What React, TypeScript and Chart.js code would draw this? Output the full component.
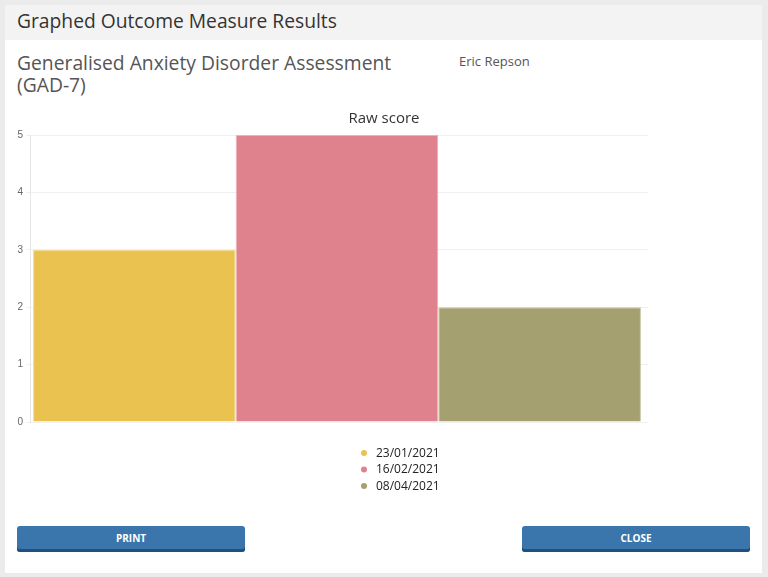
import React, { useEffect, useRef } from "react";
import { Chart, registerables } from "chart.js";

Chart.register(...registerables);

const categories: string[] = [""];
const seriesLabels: string[] = ["23/01/2021", "16/02/2021", "08/04/2021"];
const seriesValues: number[][] = [[3], [5], [2]];
const seriesColors: string[] = ["#EAC250", "#DF828E", "#A4A070"];
const seriesBorders: string[] = ["#F3DA94", "#ECB1B9", "#C8C5A4"];
const yTicks: number[] = [0, 1, 2, 3, 4, 5];

const legendPlugin = {
  id: "stackedLegend",
  afterDraw(chart: any) {
    const { ctx, chartArea } = chart;
    ctx.save();
    ctx.font = '12px "Open Sans"';
    ctx.textBaseline = "middle";
    ctx.textAlign = "left";
    chart.data.datasets.forEach((ds: any, i: number) => {
      const y = chartArea.bottom + 31 + i * 16.5;
      const cx = chart.width / 2 - 20;
      ctx.beginPath();
      ctx.fillStyle = ds.backgroundColor;
      ctx.arc(cx, y, 3, 0, Math.PI * 2);
      ctx.fill();
      ctx.fillStyle = "#222";
      ctx.fillText(ds.label, cx + 12, y + 0.5);
    });
    ctx.restore();
  },
};

function BarChart() {
  const ref = useRef<HTMLCanvasElement | null>(null);
  useEffect(() => {
    if (!ref.current) return;
    const chart = new Chart(ref.current, {
      type: "bar",
      data: {
        labels: categories,
        datasets: seriesLabels.map((label, i) => ({
          label,
          data: seriesValues[i],
          backgroundColor: seriesColors[i],
          borderColor: seriesBorders[i],
          borderWidth: 1,
          categoryPercentage: 0.99,
          barPercentage: 1,
        })),
      },
      options: {
        animation: false,
        responsive: false,
        maintainAspectRatio: false,
        layout: { padding: { left: 0, right: 0, top: 0, bottom: 78 } },
        plugins: {
          legend: { display: false },
          tooltip: { enabled: false },
          title: {
            display: true,
            text: "Raw score",
            color: "#333",
            font: { family: '"Open Sans"', size: 15, weight: "normal" },
            padding: { top: 10, bottom: 7 },
          },
        },
        scales: {
          x: { display: false },
          y: {
            min: yTicks[0],
            max: yTicks[yTicks.length - 1],
            afterFit: (s: any) => {
              s.width = 22;
            },
            ticks: {
              stepSize: 1,
              color: "#666",
              padding: 3,
              font: { family: '"Liberation Sans", Arial', size: 10 },
            },
            grid: {
              color: "rgba(0,0,0,0.06)",
              tickLength: 4,
            },
            border: { display: true, color: "#e6e6e6" },
          },
          yRight: {
            position: "right",
            display: true,
            min: yTicks[0],
            max: yTicks[yTicks.length - 1],
            afterFit: (s: any) => {
              s.width = 116;
            },
            ticks: { display: false, stepSize: 1 },
            grid: {
              display: true,
              drawOnChartArea: false,
              drawTicks: true,
              tickLength: 4,
              color: "rgba(0,0,0,0.06)",
            },
            border: { display: false },
          },
        },
      },
      plugins: [legendPlugin],
    });
    return () => chart.destroy();
  }, []);
  return (
    <canvas
      ref={ref}
      width={752}
      height={400}
      style={{ position: "absolute", left: 8, top: 100, width: 752, height: 400 }}
    />
  );
}

export default function App() {
  useEffect(() => {
    document.body.style.margin = "0";
    document.body.style.background = "#ebebeb";
  }, []);
  const btn: React.CSSProperties = {
    position: "absolute",
    top: 526,
    width: 228,
    height: 26,
    background: "#3A76AB",
    borderRadius: 3,
    boxShadow: "inset 0 -3px 0 #20507E",
    color: "#fff",
    fontFamily: '"Open Sans", sans-serif',
    fontWeight: 700,
    fontSize: 10,
    lineHeight: "24px",
    textAlign: "center",
  };
  return (
    <div
      style={{
        position: "relative",
        width: 768,
        height: 577,
        background: "#ebebeb",
        overflow: "hidden",
        fontFamily: '"Open Sans", sans-serif',
      }}
    >
      <div
        style={{
          position: "absolute",
          left: 5,
          top: 5,
          width: 757,
          height: 568,
          background: "#fff",
        }}
      />
      <div
        style={{
          position: "absolute",
          left: 5,
          top: 5,
          width: 757,
          height: 35,
          background: "#f3f3f3",
        }}
      />
      <div
        style={{
          position: "absolute",
          left: 17,
          top: 8,
          fontSize: 19.25,
          lineHeight: "26px",
          color: "#333",
          whiteSpace: "nowrap",
        }}
      >
        Graphed Outcome Measure Results
      </div>
      <div
        style={{
          position: "absolute",
          left: 17,
          top: 52,
          width: 400,
          fontSize: 19.3,
          lineHeight: "22px",
          color: "#555",
        }}
      >
        Generalised Anxiety Disorder Assessment (GAD-7)
      </div>
      <div
        style={{
          position: "absolute",
          left: 459,
          top: 52,
          fontSize: 13,
          lineHeight: "18px",
          color: "#555",
          whiteSpace: "nowrap",
        }}
      >
        Eric Repson
      </div>
      <BarChart />
      <div style={{ ...btn, left: 17 }}>PRINT</div>
      <div style={{ ...btn, left: 522 }}>CLOSE</div>
    </div>
  );
}
